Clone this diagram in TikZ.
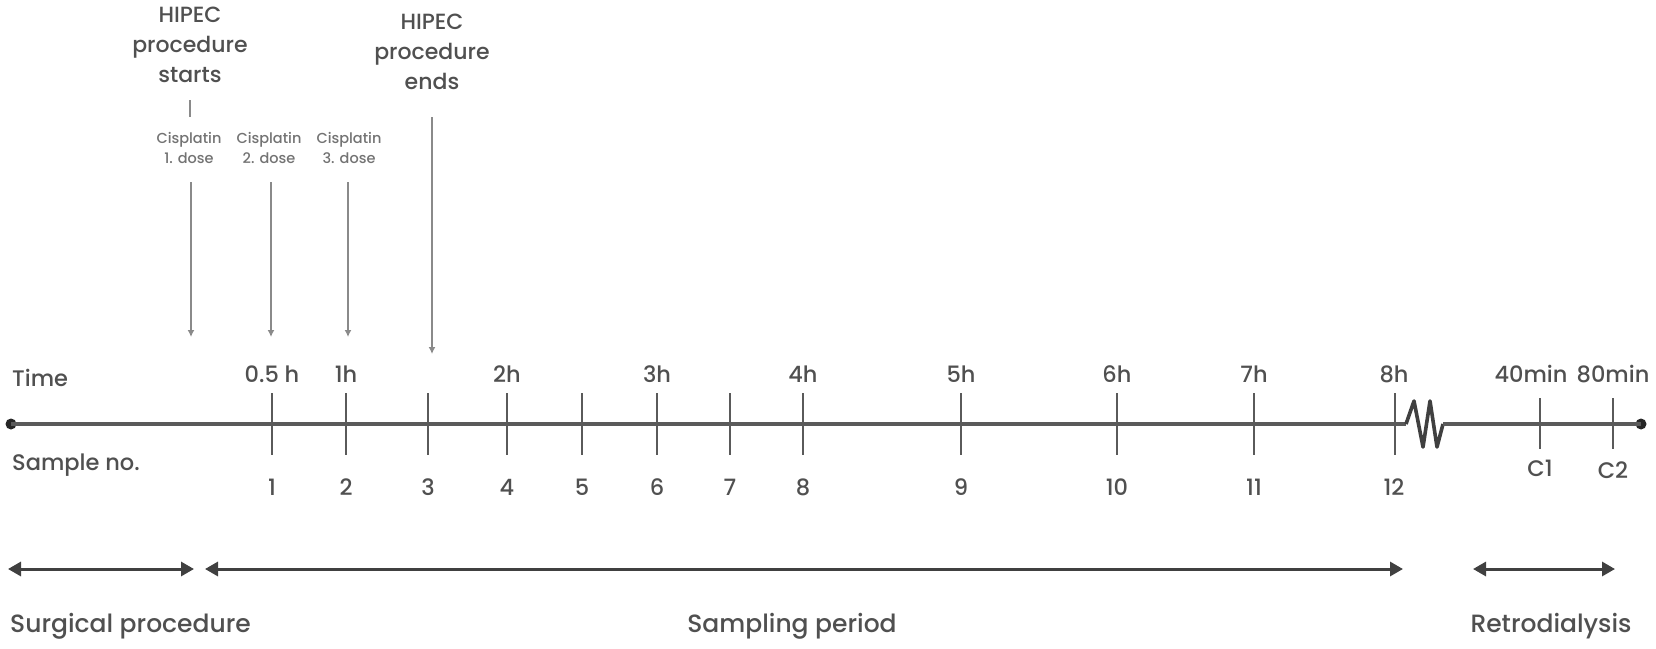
\documentclass[tikz,border=0pt]{standalone}
\usepackage{fontspec}
\setmainfont{Poppins Medium}
\usetikzlibrary{arrows.meta}
\definecolor{txt}{HTML}{505050}
\definecolor{axis}{HTML}{5A5A5A}
\definecolor{light}{HTML}{8A8A8A}
\tikzset{
  lbl/.style={text=txt,font=\fontsize{22.5}{26}\selectfont,inner sep=0pt,anchor=center},
  biglbl/.style={text=txt,font=\fontsize{25}{30}\selectfont,inner sep=0pt,anchor=center},
  toplbl/.style={text=txt,font=\fontsize{22}{30}\selectfont,inner sep=0pt,align=center},
  small/.style={text=txt!80,font=\fontsize{14.5}{20}\selectfont,inner sep=0pt,align=center},
  tickln/.style={draw=axis,line width=2.6pt},
  axisln/.style={draw=axis,line width=3.6pt},
  dot/.style={circle,fill=black!85,inner sep=0pt,minimum size=11pt},
  droparrow/.style={draw=light,line width=2pt,-{Latex[length=7pt,width=7pt]}},
  spanarrow/.style={draw=black!75,line width=3pt,{Triangle[length=13pt,width=14pt]}-{Triangle[length=13pt,width=14pt]}},
}
\begin{document}
\begin{tikzpicture}[x=1pt,y=-1pt]
\useasboundingbox[fill=white] (0,0) rectangle (1656,648);
% end dots
\node[dot] (L) at (11,424) {};
\node[dot] (R) at (1641,424) {};
% zigzag break coordinates
\coordinate (z0) at (1406,424);
\coordinate (z1) at (1414,401);
\coordinate (z2) at (1423,447);
\coordinate (z3) at (1430,401);
\coordinate (z4) at (1437,447);
\coordinate (z5) at (1443,424);
\draw[axisln] (L.center) -- (z0);
\draw[axisln,line join=round,draw=black!75] (z0) -- (z1) -- (z2) -- (z3) -- (z4) -- (z5);
\draw[axisln] (z5) -- (R.center);
% ticks
\foreach \n/\x in {t1/272,t2/346,t3/428,t4/507,t5/582,t6/657,t7/730,t8/803,t9/961,t10/1117,t11/1254,t12/1395}{
  \coordinate (\n a) at (\x,393);
  \coordinate (\n b) at (\x,455);
  \draw[tickln] (\n a) -- (\n b);
}
\coordinate (c1a) at (1540,398); \coordinate (c1b) at (1540,449);
\coordinate (c2a) at (1613,398); \coordinate (c2b) at (1613,449);
\draw[tickln] (c1a) -- (c1b);
\draw[tickln] (c2a) -- (c2b);
% time labels
\node[lbl,anchor=west] (time) at (12,378) {Time};
\node[lbl] (h05) at (272,374) {0.5 h};
\node[lbl] (h1) at (346,374) {1h};
\node[lbl] (h2) at (507,374) {2h};
\node[lbl] (h3) at (657,374) {3h};
\node[lbl] (h4) at (803,374) {4h};
\node[lbl] (h5) at (961,374) {5h};
\node[lbl] (h6) at (1117,374) {6h};
\node[lbl] (h7) at (1254,374) {7h};
\node[lbl] (h8) at (1394,374) {8h};
\node[lbl] (m40) at (1531,374) {40min};
\node[lbl] (m80) at (1613,374) {80min};
% sample labels
\node[lbl,anchor=west] (samp) at (12,465) {Sample no.};
\foreach \n/\x/\t in {s1/272/1,s2/346/2,s3/428/3,s4/507/4,s5/582/5,s6/657/6,s7/730/7,s8/803/8,s9/961/9,s10/1117/10,s11/1254/11,s12/1394/12}{
  \node[lbl] (\n) at (\x,487) {\t};
}
\node[lbl] (sc1) at (1540,468) {C1};
\node[lbl] (sc2) at (1613,470) {C2};
% top annotations
\node[toplbl] (start) at (190,45) {HIPEC\\procedure\\starts};
\coordinate (st1) at (190,100);
\coordinate (st2) at (190,117);
\draw[draw=light,line width=1.6pt] (st1) -- (st2);
\node[toplbl] (end) at (432,52) {HIPEC\\procedure\\ends};
\node[small] (d1) at (189,148) {Cisplatin\\1. dose};
\node[small] (d2) at (269,148) {Cisplatin\\2. dose};
\node[small] (d3) at (349,148) {Cisplatin\\3. dose};
\coordinate (e1) at (432,117); \coordinate (e2) at (432,354);
\draw[droparrow] (e1) -- (e2);
\coordinate (a1) at (191,182); \coordinate (b1) at (191,337);
\coordinate (a2) at (271,182); \coordinate (b2) at (271,337);
\coordinate (a3) at (348,182); \coordinate (b3) at (348,337);
\draw[droparrow] (a1) -- (b1);
\draw[droparrow] (a2) -- (b2);
\draw[droparrow] (a3) -- (b3);
% bottom spans
\coordinate (p1) at (8,569); \coordinate (p2) at (194,569);
\coordinate (q1) at (205,569); \coordinate (q2) at (1403,569);
\coordinate (r1) at (1473,569); \coordinate (r2) at (1615,569);
\draw[spanarrow] (p1) -- (p2);
\draw[spanarrow] (q1) -- (q2);
\draw[spanarrow] (r1) -- (r2);
\node[biglbl,anchor=west] (surg) at (10,626) {Surgical procedure};
\node[biglbl] (sampper) at (792,626) {Sampling period};
\node[biglbl] (retro) at (1551,626) {Retrodialysis};
\end{tikzpicture}
\end{document}
